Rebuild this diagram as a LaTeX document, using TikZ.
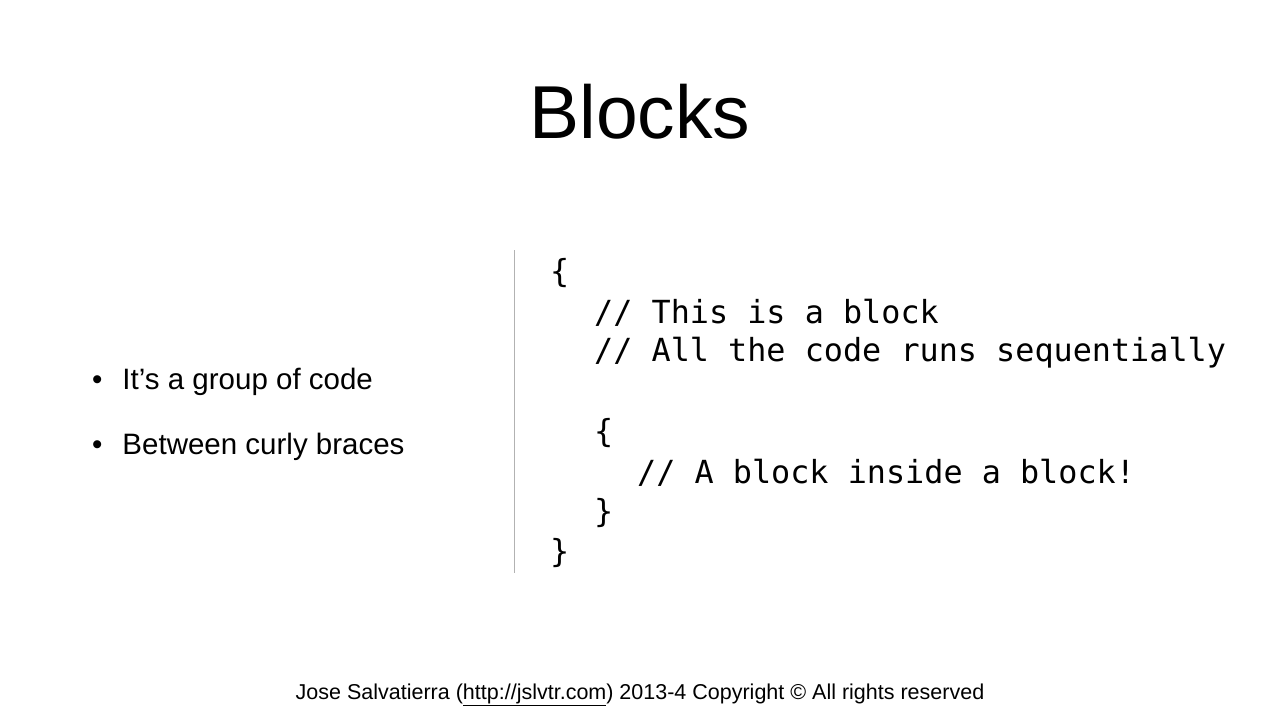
\documentclass[tikz,border=0pt]{standalone}
\usepackage{fontspec}
\setmainfont{Liberation Sans}
\newfontfamily\codefont{DejaVu Sans Mono}
\begin{document}
\begin{tikzpicture}[x=1pt,y=-1pt,
  code/.style={anchor=west,inner sep=0pt,font=\codefont\fontsize{31.8}{31.8}\selectfont},
  bul/.style={anchor=west,inner sep=0pt,font=\fontsize{29.5}{29.5}\selectfont}]
\useasboundingbox[fill=white] (0,0) rectangle (1280,720);
\node[inner sep=0pt,font=\fontsize{75}{75}\selectfont] (title) at (640,112) {Blocks};
\node[bul] (b1) at (92,382) {•\hspace{20pt}It’s a group of code};
\node[bul] (b2) at (92,447) {•\hspace{20pt}Between curly braces};
\draw[gray!60,line width=1pt] (514,250) coordinate (l1) -- (514,573) coordinate (l2);
\node[code] (c1) at (550,273) {\{};
\node[code] (c2) at (594,313) {// This is a block};
\node[code] (c3) at (594,353) {// All the code runs sequentially};
\node[code] (c4) at (594,433) {\{};
\node[code] (c5) at (637,473) {// A block inside a block!};
\node[code] (c6) at (594,513) {\}};
\node[code] (c7) at (550,553) {\}};
\node[inner sep=0pt,font=\fontsize{21.5}{21.5}\selectfont] (foot) at (640,695) {Jose Salvatierra (\underline{http://jslvtr.com}) 2013-4 Copyright © All rights reserved};
\end{tikzpicture}
\end{document}
